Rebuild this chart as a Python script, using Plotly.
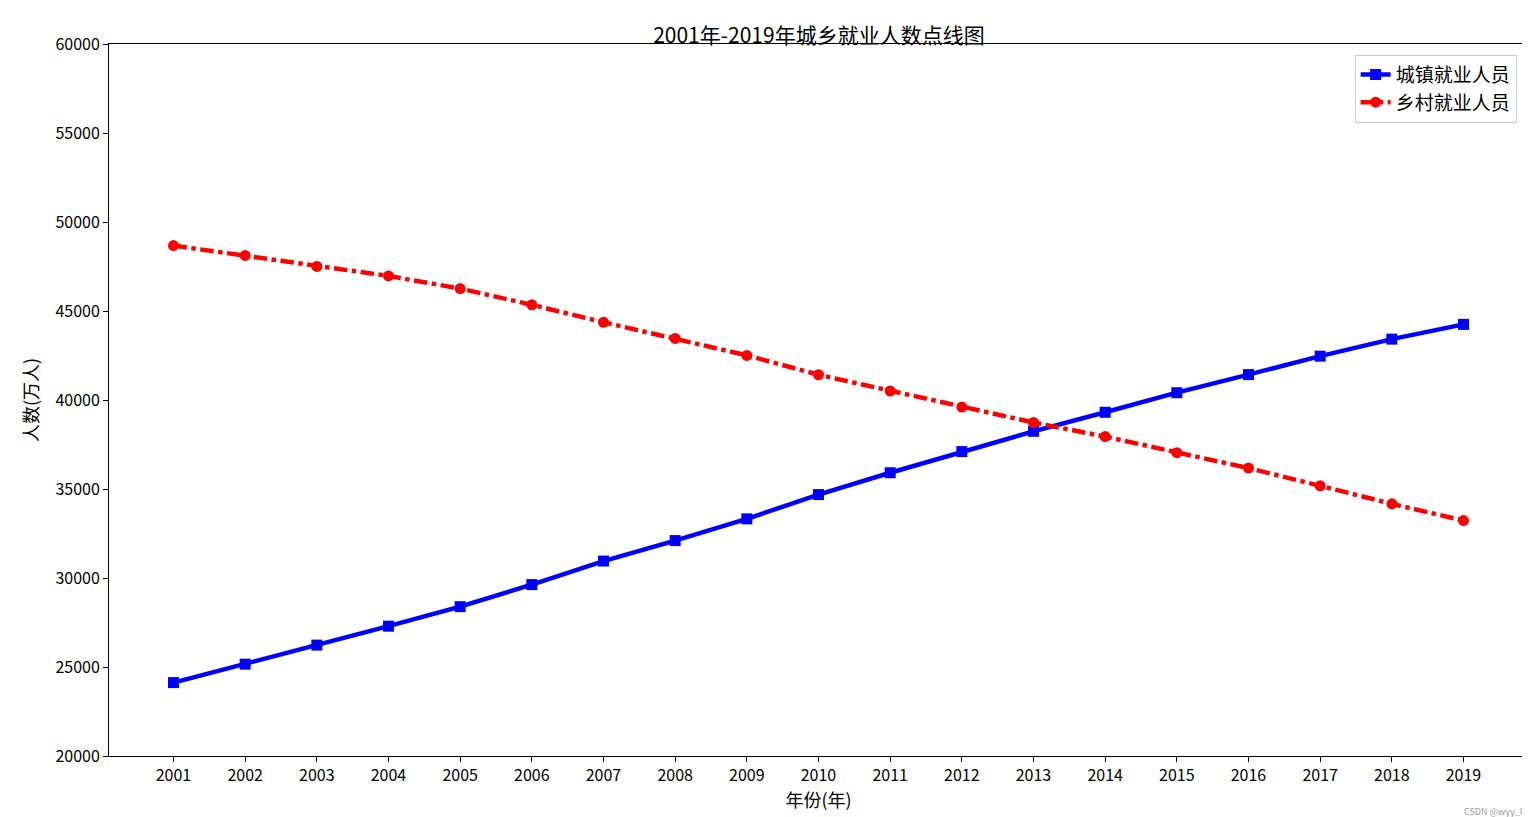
import plotly.graph_objects as go

years = list(range(2001, 2020))
urban = [24123, 25159, 26230, 27293, 28389, 29630, 30953, 32103, 33322, 34687,
         35914, 37102, 38240, 39310, 40410, 41428, 42462, 43419, 44247]
rural = [48674, 48121, 47506, 46971, 46258, 45348, 44368, 43461, 42506, 41418,
         40506, 39602, 38737, 37943, 37041, 36175, 35178, 34167, 33224]

font = "Noto Sans CJK SC"

fig = go.Figure()
fig.add_trace(go.Scatter(x=years, y=urban, name="城镇就业人员", mode="lines+markers",
                         line=dict(color="blue", width=4.5),
                         marker=dict(symbol="square", size=11, color="blue")))
fig.add_trace(go.Scatter(x=years, y=rural, name="乡村就业人员", mode="lines+markers",
                         line=dict(color="red", width=4.5, dash="dashdot"),
                         marker=dict(symbol="circle", size=11, color="red")))

axis_style = dict(showline=True, linecolor="black", linewidth=1, mirror=True,
                  ticks="outside", ticklen=5, tickcolor="black", showgrid=False,
                  zeroline=False, tickfont=dict(size=16, color="black"))

fig.update_layout(
    width=1530, height=817,
    margin=dict(l=101, r=10, t=36, b=69),
    plot_bgcolor="white", paper_bgcolor="white",
    font=dict(family=font, color="black"),
    title=dict(text="2001年-2019年城乡就业人数点线图", x=0.53, xanchor="center",
               y=0.975, font=dict(size=21)),
    xaxis=dict(title=dict(text="年份(年)", font=dict(size=18), standoff=6),
               tickvals=years, range=[2000.1, 2019.9], **axis_style),
    yaxis=dict(title=dict(text="人数(万人)", font=dict(size=18), standoff=12),
               range=[20000, 60000], dtick=5000, tickformat="d", **axis_style),
    legend=dict(x=0.992, y=0.985, xanchor="right", yanchor="top",
                bordercolor="#cccccc", borderwidth=1, font=dict(size=19),
                bgcolor="rgba(255,255,255,0.8)"),
    annotations=[dict(text="CSDN @wyy_R", xref="paper", yref="paper", x=1.0, y=-0.09,
                      xanchor="right", showarrow=False,
                      font=dict(size=9, color="#999999"))],
)

fig.write_html("out.html")
